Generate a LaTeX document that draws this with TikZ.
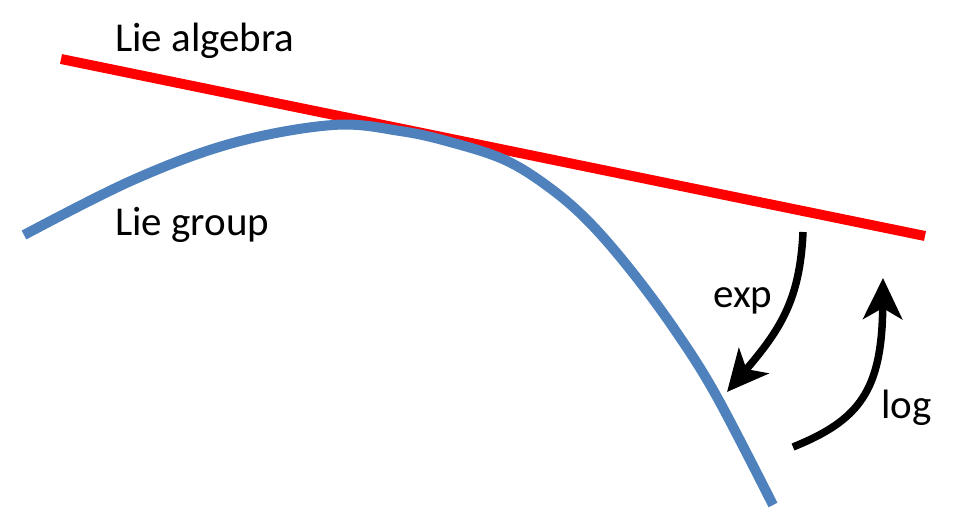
\documentclass[tikz,border=0pt]{standalone}
\usepackage{fontspec}
\setmainfont{Carlito}
\usetikzlibrary{arrows.meta}
\definecolor{liered}{RGB}{255,0,0}
\definecolor{lieblue}{RGB}{79,129,189}
\tikzset{
  lbl/.style={anchor=base west, inner sep=0pt, font=\fontsize{41}{46}\selectfont},
  algline/.style={draw=liered, line width=10pt},
  grpline/.style={draw=lieblue, line width=10pt},
  maparrow/.style={draw=black, line width=7.5pt, -{Stealth[length=41pt,width=39pt,inset=11pt]}}
}
\begin{document}
\begin{tikzpicture}[x=1pt,y=-1pt]
\useasboundingbox (0,0) rectangle (954,532);
% Lie algebra (tangent line)
\coordinate (a1) at (61,59);
\coordinate (a2) at (925,236);
\draw[algline] (a1) -- (a2);
% Lie group (curve)
\draw[grpline] plot[smooth, tension=0.6] coordinates {(24,235) (133,180) (233,143) (333,125) (400,131) (450,142) (505,160) (550,188) (590,223) (633,273) (677,333) (717,397) (773,505)};
% labels
\node[lbl] (alg) at (115,52) {Lie algebra};
\node[lbl] (grp) at (115,236) {Lie group};
\node[lbl] (expl) at (713,307) {exp};
\node[lbl] (logl) at (881,418) {log};
% arrows
\coordinate (e1) at (803,232);
\coordinate (e2) at (727,392);
\coordinate (l1) at (793,447);
\coordinate (l2) at (883,278);
\draw[maparrow] (e1) .. controls (800,300) and (780,330) .. (e2);
\draw[maparrow] (l1) .. controls (860,420) and (882,390) .. (l2);
\end{tikzpicture}
\end{document}
